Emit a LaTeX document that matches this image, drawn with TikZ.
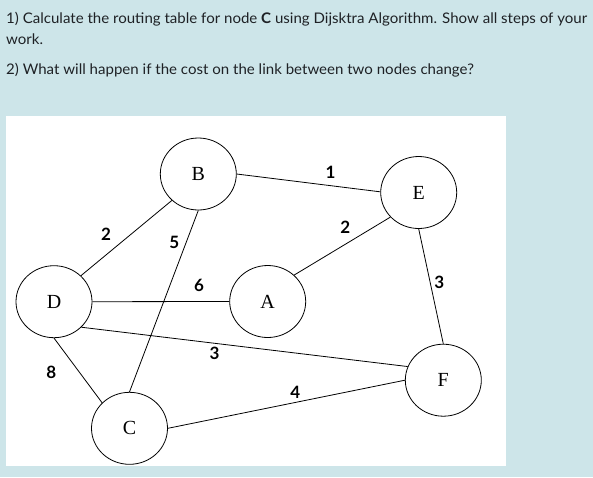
\documentclass[tikz,border=0pt]{standalone}
\usepackage{fontspec}
\setmainfont{Liberation Serif}
\newfontfamily\uifont{Lato}
\usetikzlibrary{shapes.geometric}
\definecolor{bgblue}{RGB}{205,229,233}
\definecolor{txtcol}{RGB}{30,33,37}
\newlength\firstlw
\newcommand\lineone{1) Calculate the routing table for node \textbf{C} using Dijsktra Algorithm. Show all steps of your}
\newcommand\qfont{\uifont\fontsize{14.6}{16}\selectfont}
\newsavebox\linebox
\tikzset{
  rnode/.style={ellipse, draw=black, line width=0.8pt, fill=white, minimum width=76pt, minimum height=72pt, inner sep=0pt, font=\fontsize{20}{20}\selectfont},
  edge/.style={draw=black, line width=0.8pt},
  wt/.style={font=\uifont\bfseries\fontsize{17}{17}\selectfont, inner sep=0pt, text=black},
  qtext/.style={anchor=base west, inner sep=0pt, text=txtcol}
}
\begin{document}
\sbox\linebox{\qfont\lineone}%
\setlength\firstlw{\wd\linebox}%
\edef\sx{\fpeval{581/(\firstlw/1pt)}}%
\begin{tikzpicture}[x=1pt,y=-1pt]
\fill[bgblue] (0,0) rectangle (593,477);
\useasboundingbox (0,0) rectangle (593,477);
\fill[white] (6,116) rectangle (506,466);
% question text
\node[qtext] (q1) at (6,23.3) {\qfont\scalebox{\sx}[1]{\lineone}};
\node[qtext] (q2) at (6,44.3) {\qfont\scalebox{\sx}[1]{work.}};
\node[qtext] (q3) at (6,74) {\qfont\scalebox{\sx}[1]{2) What will happen if the cost on the link between two nodes change?}};
% nodes
\node[rnode] (B) at (198.3,174) {B};
\node[rnode] (E) at (418.7,192.5) {E};
\node[rnode] (D) at (54,301.7) {D};
\node[rnode] (A) at (267.7,301.5) {A};
\node[rnode] (C) at (129.5,428.3) {C};
\node[rnode] (F) at (443.3,380.2) {F};
% edges
\draw[edge] (B.0) -- (E.179);
\draw[edge] (B.225) -- (D.44);
\draw[edge] (B.-90) -- (C.90);
\draw[edge] (D.0) -- (A.180);
\draw[edge] (E.221) -- (A.45);
\draw[edge] (E.-90) -- (F.90);
\draw[edge] (D.-43) -- (F.159);
\draw[edge] (D.-90) -- (C.137);
\draw[edge] (C.0) -- (F.180);
% weights
\node[wt] (wBE) at (330.5,172.5) {1};
\node[wt] (wBD) at (106,234) {2};
\node[wt] (wBC) at (174.3,242.7) {5};
\node[wt] (wDA) at (199,285) {6};
\node[wt] (wEA) at (345.3,227.3) {2};
\node[wt] (wEF) at (439.3,282.3) {3};
\node[wt] (wDF) at (214.5,353.5) {3};
\node[wt] (wDC) at (51.3,372.5) {8};
\node[wt] (wCF) at (295.3,392) {4};
\end{tikzpicture}
\end{document}
